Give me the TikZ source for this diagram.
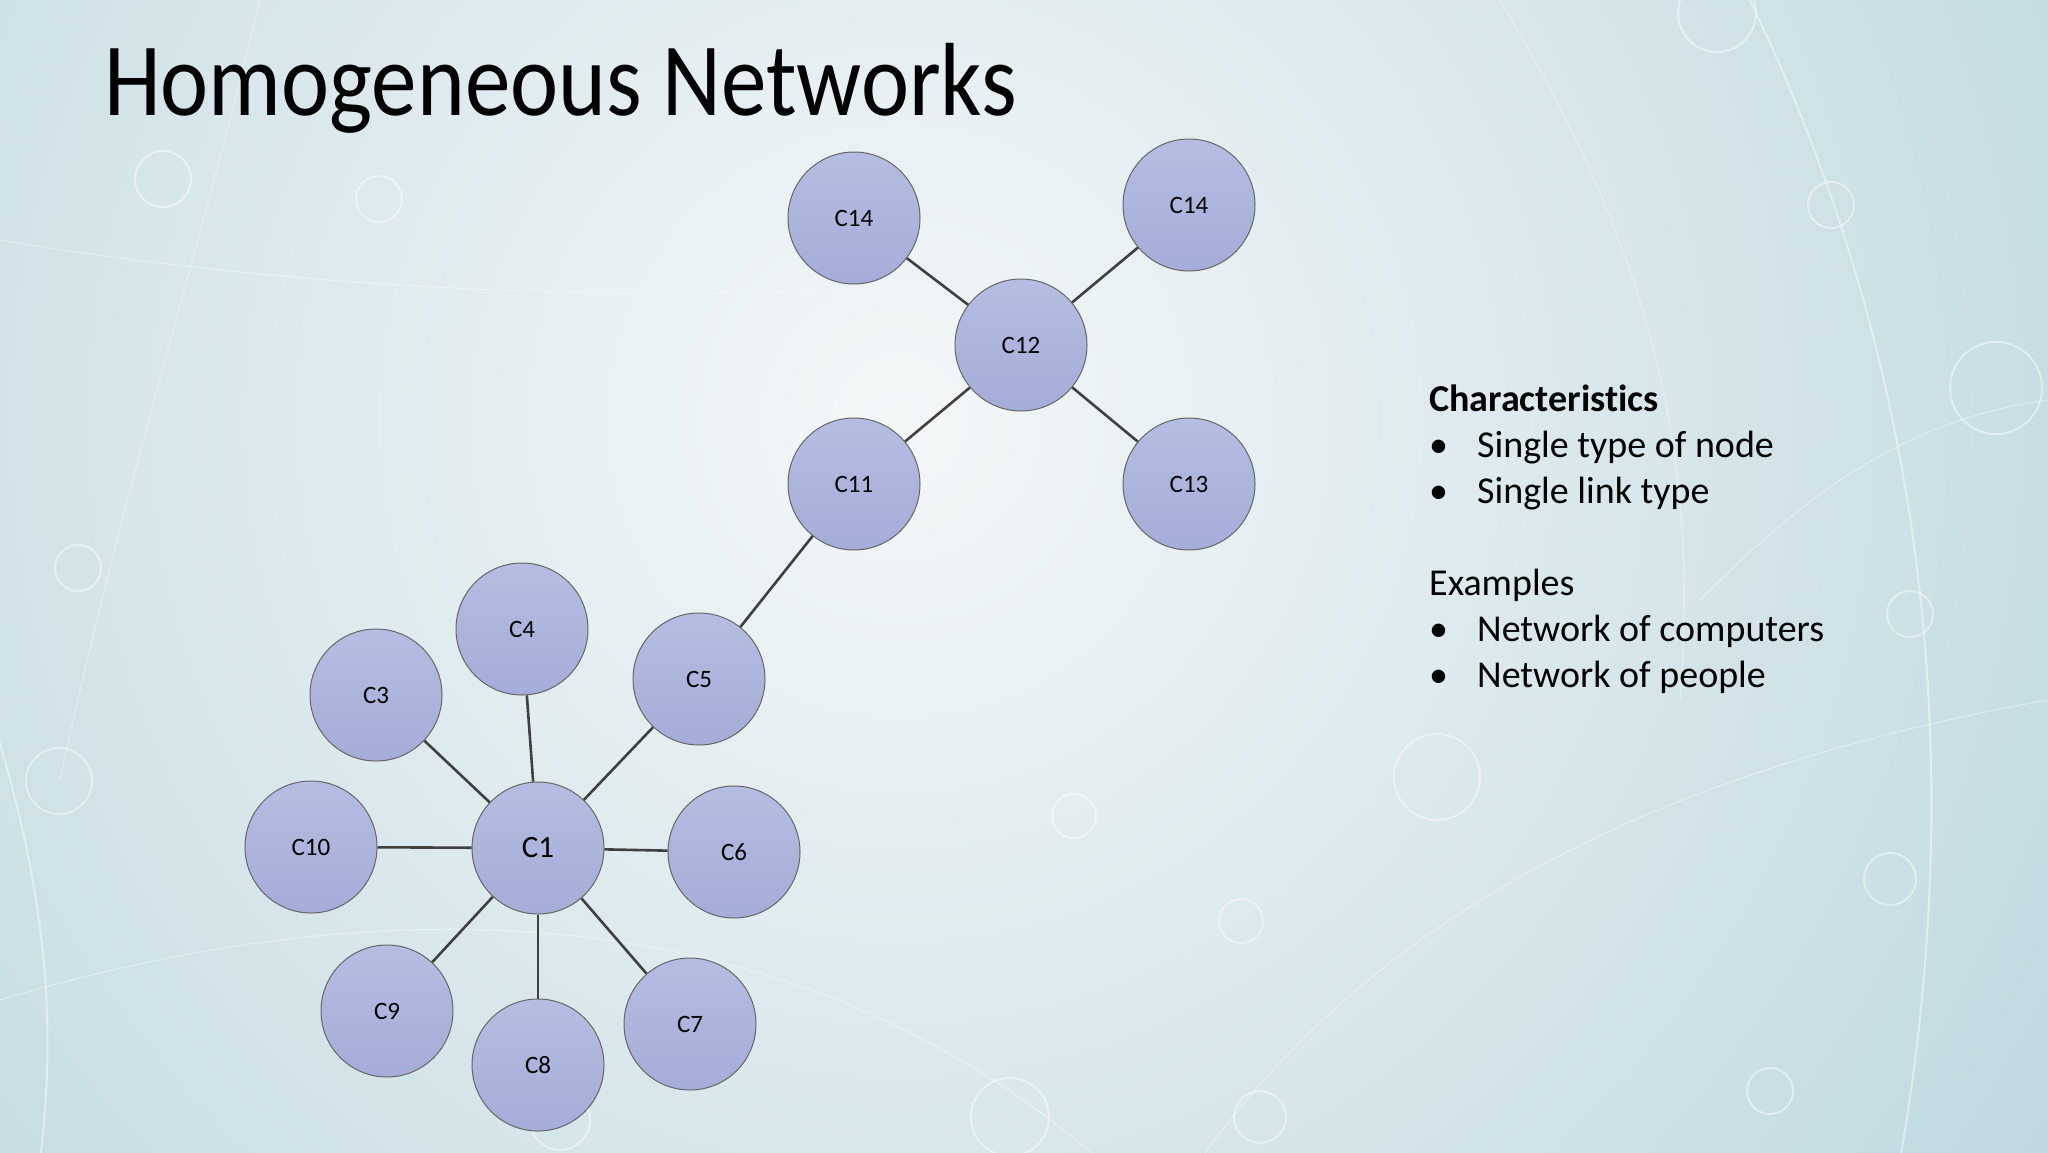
\documentclass[tikz,border=0pt]{standalone}
\usepackage{fontspec}
\setmainfont[RawFeature=-liga]{Carlito}
\usepackage{graphicx}
\begin{document}
\begin{tikzpicture}[x=1pt,y=-1pt,
  cnode/.style={circle,draw=black!60,line width=1pt,top color=nodetop,bottom color=nodebot,minimum size=132pt,inner sep=0pt,font=\fontsize{25}{30}\selectfont},
  bignode/.style={cnode,font=\fontsize{31}{36}\selectfont},
  link/.style={draw=black!75,line width=2.6pt},
  deco/.style={draw=white,opacity=0.45,line width=2pt},
  decothin/.style={draw=white,opacity=0.35,line width=1.2pt},
  bodytxt/.style={anchor=base west,inner sep=0pt,font=\fontsize{38}{44}\selectfont}
]
\definecolor{nodetop}{RGB}{182,189,226}
\definecolor{nodebot}{RGB}{164,172,216}
\definecolor{bgin}{RGB}{244,247,248}
\definecolor{bgout}{RGB}{186,214,222}
\useasboundingbox (0,0) rectangle (2048,1152);
\begin{scope}
\clip (0,0) rectangle (2048,1152);
\shade[inner color=bgin,outer color=bgout] (900,420) circle (1500);
% faint background network
\draw[deco] (1740,-20) .. controls (1900,300) and (1980,700) .. (1900,1160);
\draw[deco] (-20,680) .. controls (40,860) and (60,1000) .. (40,1160);
\draw[decothin] (0,240) .. controls (300,290) and (600,300) .. (850,290);
\draw[decothin] (1200,1160) .. controls (1350,950) and (1600,780) .. (2048,700);
\draw[decothin] (0,1000) .. controls (400,880) and (800,900) .. (1100,1160);
\draw[decothin] (1500,0) .. controls (1650,250) and (1700,450) .. (1680,700);
\draw[decothin] (260,0) .. controls (200,250) and (120,500) .. (60,780);
\draw[decothin] (2048,400) .. controls (1900,420) and (1800,500) .. (1700,600);
\draw[deco] (163,179) circle (28);
\draw[deco] (379,199) circle (23);
\draw[deco] (78,568) circle (23);
\draw[deco] (59,781) circle (33);
\draw[deco] (1437,777) circle (43);
\draw[deco] (1831,205) circle (23);
\draw[deco] (1996,388) circle (46);
\draw[deco] (1717,13) circle (39);
\draw[deco] (1770,1091) circle (23);
\draw[deco] (1890,879) circle (26);
\draw[deco] (1241,921) circle (22);
\draw[deco] (1074,816) circle (22);
\draw[deco] (1910,614) circle (23);
\draw[deco] (1010,1117) circle (39);
\draw[deco] (1260,1117) circle (26);
\draw[deco] (560,1120) circle (30);
\end{scope}

\node[anchor=base west,inner sep=0pt,font=\fontsize{104}{120}\selectfont] (title) at (104,115) {\scalebox{0.876}[1]{Homogeneous Networks}};

% nodes
\node[cnode] (c14a) at (854,218) {C14};
\node[cnode] (c14b) at (1189,205) {C14};
\node[cnode] (c12) at (1021,345) {C12};
\node[cnode] (c11) at (854,484) {C11};
\node[cnode] (c13) at (1189,484) {C13};
\node[cnode] (c4) at (522,629) {C4};
\node[cnode] (c3) at (376,695) {C3};
\node[cnode] (c5) at (699,679) {C5};
\node[cnode] (c10) at (311,847) {C10};
\node[bignode] (c1) at (538,848) {C1};
\node[cnode] (c6) at (734,852) {C6};
\node[cnode] (c9) at (387,1011) {C9};
\node[cnode] (c8) at (538,1065) {C8};
\node[cnode] (c7) at (690,1024) {C7};

% links
\foreach \n in {c3,c4,c5,c6,c7,c8,c9,c10} \draw[link] (c1) -- (\n);
\draw[link] (c5) -- (c11);
\draw[link] (c11) -- (c12);
\draw[link] (c12) -- (c14a);
\draw[link] (c12) -- (c14b);
\draw[link] (c12) -- (c13);

% text
\node[bodytxt] (h1) at (1429,411) {\bfseries Characteristics};
\node[bodytxt] (b1) at (1429,457) {\textbullet};
\node[bodytxt] (t1) at (1477,457) {Single type of node};
\node[bodytxt] (b2) at (1429,503) {\textbullet};
\node[bodytxt] (t2) at (1477,503) {Single link type};
\node[bodytxt] (h2) at (1429,595) {Examples};
\node[bodytxt] (b3) at (1429,641) {\textbullet};
\node[bodytxt] (t3) at (1477,641) {Network of computers};
\node[bodytxt] (b4) at (1429,687) {\textbullet};
\node[bodytxt] (t4) at (1477,687) {Network of people};
\end{tikzpicture}
\end{document}
